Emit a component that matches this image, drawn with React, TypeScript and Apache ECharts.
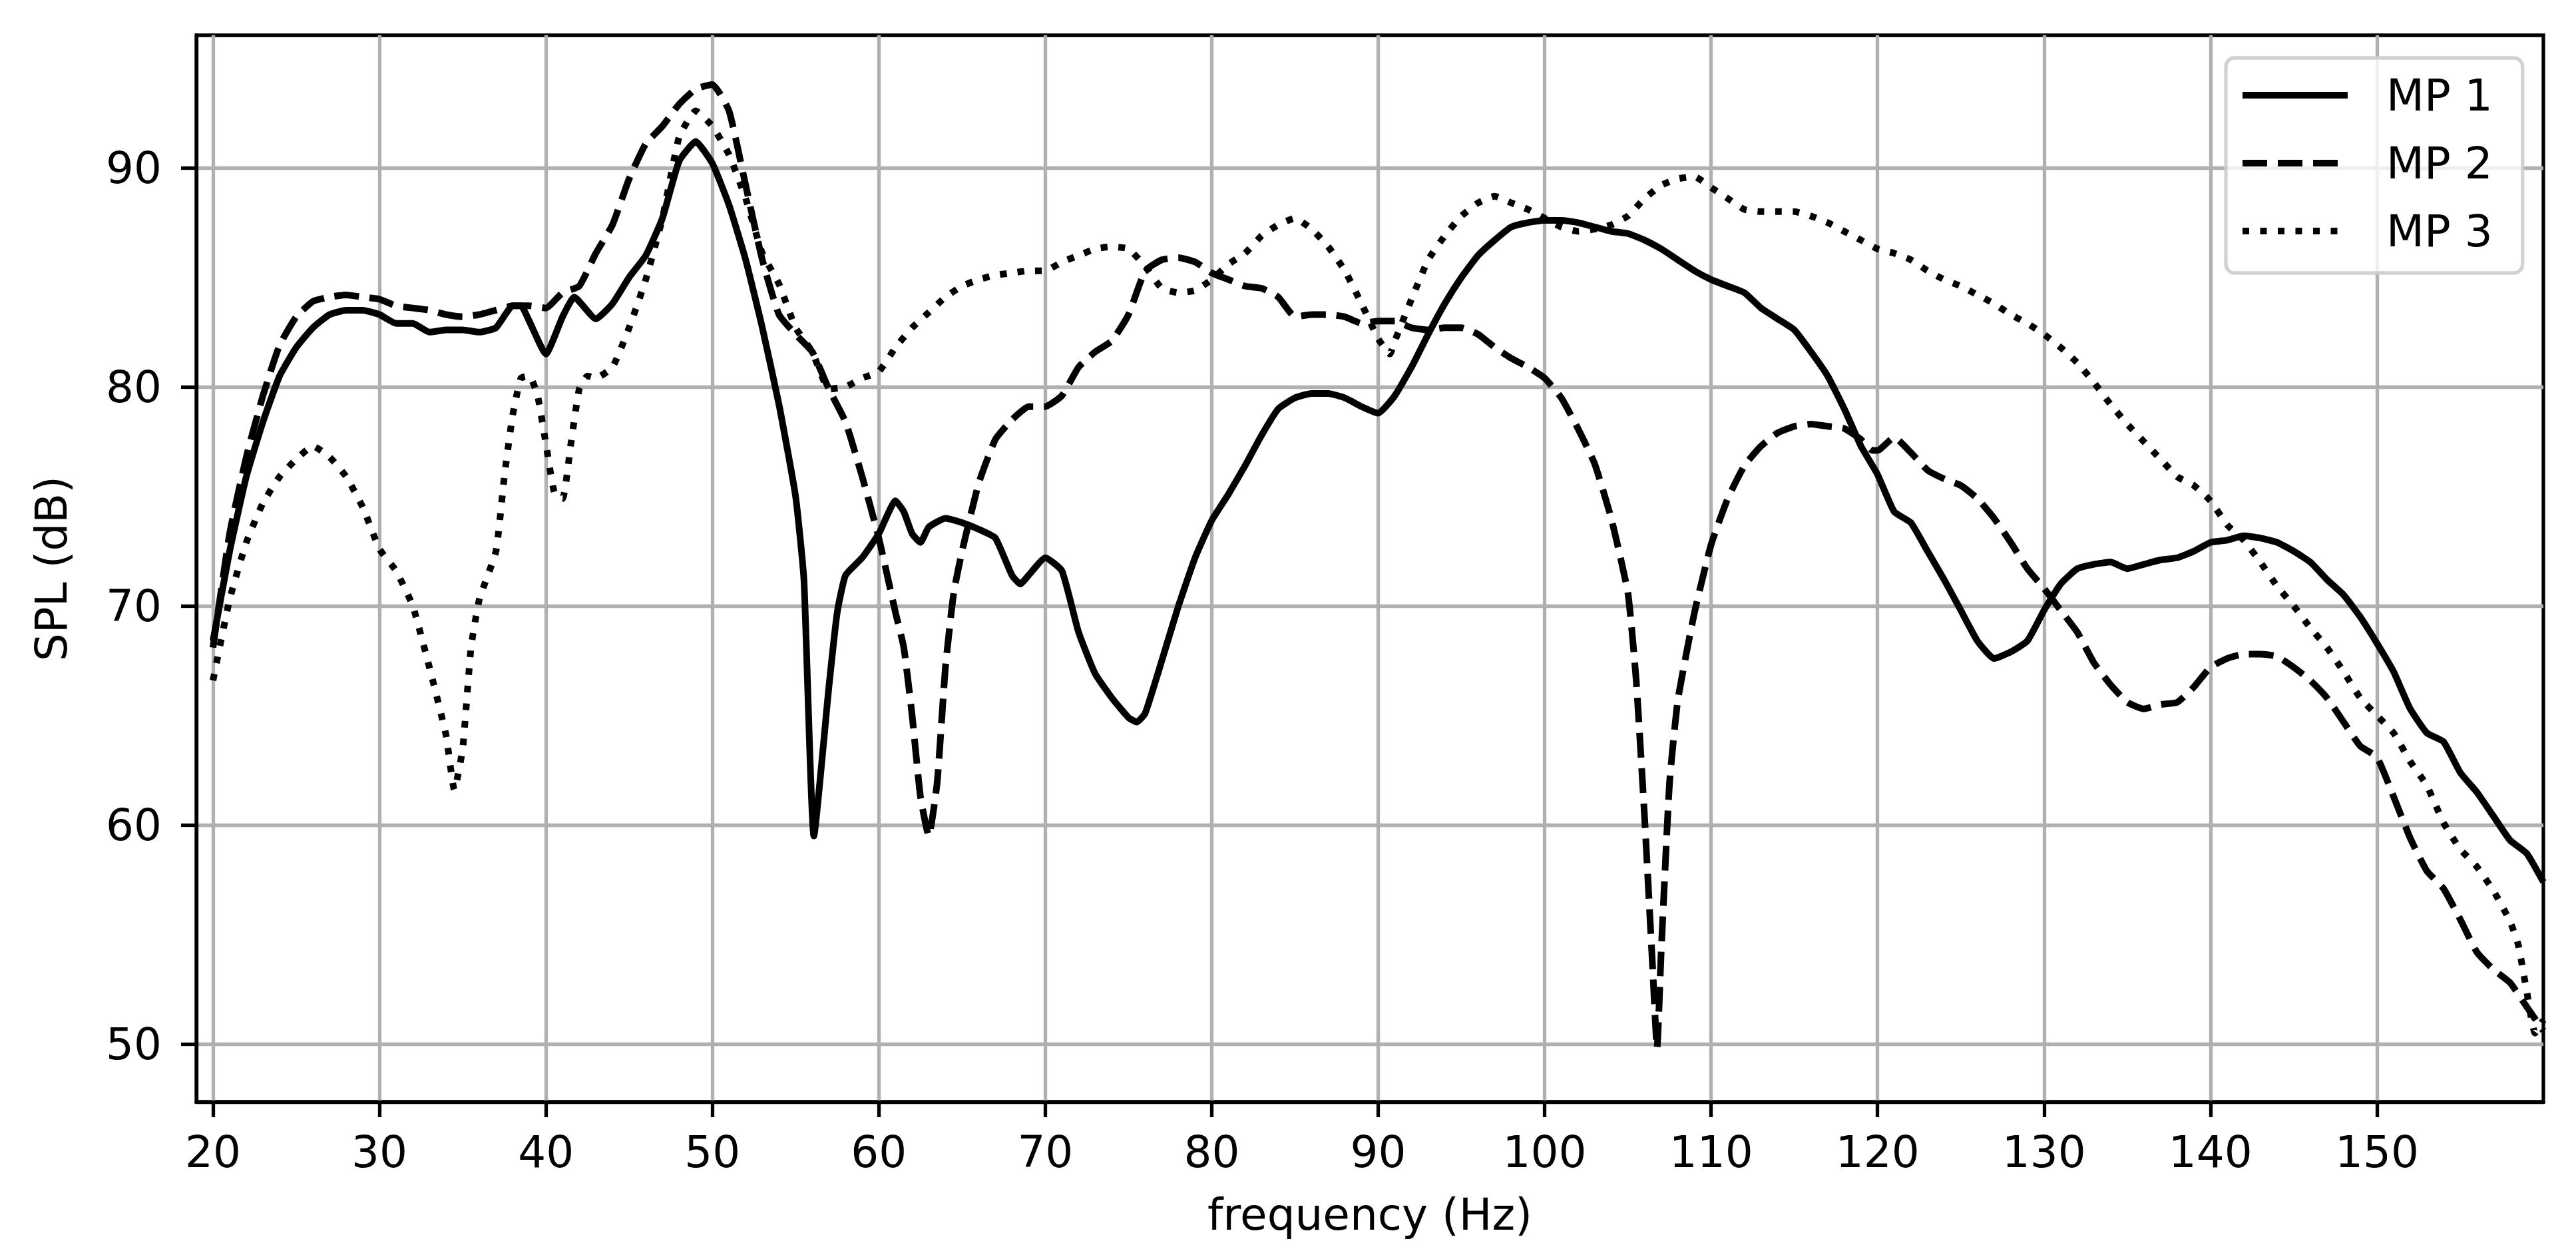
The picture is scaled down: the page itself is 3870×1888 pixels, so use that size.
import React, { useEffect, useRef } from "react";
import * as echarts from "echarts";

const X_TICKS = [20, 30, 40, 50, 60, 70, 80, 90, 100, 110, 120, 130, 140, 150];
const Y_TICKS = [50, 60, 70, 80, 90];
const SERIES_NAMES = ["MP 1", "MP 2", "MP 3"];

const MP1_FREQ = [
  20, 21, 22, 23, 24, 25, 26, 27, 28, 29, 30, 31, 32, 33, 34, 35, 36, 37, 38, 38.5, 39, 40, 41, 41.7, 43, 44, 45, 46, 47, 48, 49,
  50, 51, 52, 53, 54, 55, 55.5, 56.1, 57, 57.5, 58, 59, 60, 61, 61.5, 62, 62.5, 63, 64, 65, 66, 67, 68, 68.5, 69, 70, 71, 72,
  73, 74, 75, 75.5, 76, 77, 78, 79, 80, 81, 82, 83, 84, 85, 86, 87, 88, 89, 90, 91, 92, 93, 94, 95, 96, 97, 98, 99, 100, 101,
  102, 103, 104, 105, 106, 107, 108, 109, 110, 111, 112, 113, 114, 115, 116, 117, 118, 119, 120, 121, 122, 123, 124, 125, 126,
  127, 128, 129, 130, 131, 132, 133, 134, 135, 136, 137, 138, 139, 140, 141, 142, 143, 144, 145, 146, 147, 148, 149, 150, 151,
  152, 153, 154, 155, 156, 157, 158, 159, 160,
];
const MP1_SPL = [
  68.4, 72.5, 75.9, 78.4, 80.5, 81.8, 82.7, 83.3, 83.5, 83.5, 83.3, 82.9, 82.9, 82.5, 82.6, 82.6, 82.5, 82.7, 83.7, 83.7, 83.0,
  81.5, 83.2, 84.1, 83.1, 83.8, 85.0, 86.0, 87.7, 90.3, 91.2, 90.2, 88.3, 85.8, 82.7, 79.2, 75.0, 71.2, 59.5, 66.3, 69.7, 71.4,
  72.2, 73.3, 74.8, 74.3, 73.3, 72.9, 73.6, 74.0, 73.8, 73.5, 73.1, 71.4, 71.0, 71.4, 72.2, 71.6, 68.8, 66.9, 65.8, 64.9, 64.7,
  65.1, 67.5, 70.0, 72.2, 73.9, 75.1, 76.4, 77.8, 79.0, 79.5, 79.7, 79.7, 79.5, 79.1, 78.8, 79.6, 80.9, 82.4, 83.8, 85.0, 86.0,
  86.7, 87.3, 87.5, 87.6, 87.6, 87.5, 87.3, 87.1, 87.0, 86.7, 86.3, 85.8, 85.3, 84.9, 84.6, 84.3, 83.6, 83.1, 82.6, 81.6, 80.5,
  79.0, 77.3, 76.0, 74.3, 73.8, 72.5, 71.2, 69.8, 68.4, 67.6, 67.9, 68.4, 69.8, 71.0, 71.7, 71.9, 72.0, 71.7, 71.9, 72.1, 72.2,
  72.5, 72.9, 73.0, 73.2, 73.1, 72.9, 72.5, 72.0, 71.2, 70.5, 69.5, 68.3, 67.0, 65.3, 64.2, 63.8, 62.4, 61.5, 60.4, 59.3, 58.7,
  57.4,
];

const MP2_FREQ = [
  20, 21, 22, 23, 24, 25, 26, 27, 28, 29, 30, 31, 32, 33, 34, 35, 36, 37, 38, 39, 40, 41, 42, 43, 44, 45, 46, 47, 48, 49, 50,
  51, 52, 53, 54, 55, 56, 57, 58, 59, 60, 61, 61.5, 62, 62.5, 63, 63.5, 64, 64.5, 65, 66, 67, 68, 69, 70, 71, 72, 73, 74, 75,
  76, 77, 78, 79, 80, 81, 82, 83, 84, 85, 86, 87, 88, 89, 90, 91, 92, 93, 94, 95, 96, 97, 98, 99, 100, 101, 102, 103, 104, 105,
  105.5, 106, 106.5, 106.75, 107, 107.5, 108, 109, 110, 111, 112, 113, 114, 115, 116, 117, 118, 119, 119.7, 120, 121, 122, 123,
  124, 125, 126, 127, 128, 129, 130, 131, 132, 133, 134, 135, 136, 137, 138, 139, 140, 141, 142, 143, 144, 145, 146, 147, 148,
  149, 150, 151, 152, 153, 154, 155, 156, 157, 158, 159, 160,
];
const MP2_SPL = [
  68.1, 73.3, 76.8, 79.6, 81.9, 83.2, 83.9, 84.1, 84.2, 84.1, 84.0, 83.7, 83.6, 83.5, 83.3, 83.2, 83.3, 83.5, 83.7, 83.7, 83.6,
  84.3, 84.6, 86.1, 87.4, 89.5, 91.1, 91.9, 92.9, 93.6, 93.8, 92.6, 89.2, 85.8, 83.3, 82.4, 81.6, 79.9, 78.4, 75.9, 73.1, 69.7,
  68.1, 65.0, 61.3, 59.5, 61.9, 67.2, 70.6, 72.5, 75.6, 77.6, 78.5, 79.1, 79.1, 79.6, 80.9, 81.6, 82.1, 83.3, 85.3, 85.8, 85.9,
  85.7, 85.2, 84.9, 84.6, 84.5, 84.1, 83.2, 83.3, 83.3, 83.2, 82.9, 83.0, 83.0, 82.7, 82.6, 82.7, 82.7, 82.4, 81.8, 81.3, 80.9,
  80.4, 79.5, 78.1, 76.5, 74.0, 70.6, 66.6, 60.4, 53.3, 49.8, 54.2, 61.9, 65.7, 69.7, 72.8, 74.9, 76.4, 77.3, 77.9, 78.2, 78.3,
  78.2, 78.1, 77.6, 77.1, 77.1, 77.7, 77.0, 76.2, 75.8, 75.5, 74.9, 74.0, 72.9, 71.7, 70.8, 69.8, 68.8, 67.4, 66.4, 65.6, 65.3,
  65.5, 65.6, 66.3, 67.2, 67.6, 67.8, 67.8, 67.7, 67.2, 66.6, 65.8, 64.7, 63.6, 63.1, 61.3, 59.4, 57.9, 57.1, 55.7, 54.2, 53.4,
  52.8, 51.7, 50.6,
];

const MP3_FREQ = [
  20, 21, 22, 23, 24, 25, 26, 27, 28, 29, 30, 31, 32, 33, 34, 34.5, 35, 35.5, 36, 37, 37.5, 38, 38.5, 39, 39.5, 40, 40.5, 41,
  41.5, 42, 42.5, 43, 44, 45, 46, 47, 48, 49, 50, 51, 52, 53, 54, 55, 56, 57, 58, 59, 60, 61, 62, 63, 64, 65, 66, 67, 68, 69,
  70, 71, 72, 73, 74, 75, 76, 77, 78, 79, 80, 81, 82, 83, 84, 85, 86, 87, 88, 89, 90, 90.7, 91, 92, 93, 94, 95, 96, 97, 98, 99,
  100, 101, 102, 103, 104, 105, 106, 107, 108, 109, 110, 111, 112, 113, 114, 115, 116, 117, 118, 119, 120, 121, 122, 123, 124,
  125, 126, 127, 128, 129, 130, 131, 132, 133, 134, 135, 136, 137, 138, 139, 140, 141, 142, 143, 144, 145, 146, 147, 148, 149,
  150, 151, 152, 153, 154, 155, 156, 157, 158, 158.5, 159, 159.5, 160,
];
const MP3_SPL = [
  66.6, 70.3, 72.9, 74.7, 75.9, 76.7, 77.3, 76.8, 75.9, 74.5, 72.6, 71.6, 70.0, 67.2, 64.1, 61.6, 63.5, 68.1, 70.3, 72.5, 75.9,
  78.7, 80.4, 80.5, 79.6, 77.4, 75.2, 74.9, 77.4, 79.9, 80.5, 80.4, 80.9, 82.7, 84.9, 87.7, 91.4, 92.6, 91.9, 90.6, 88.6, 86.1,
  84.7, 82.7, 81.6, 79.9, 80.0, 80.4, 80.7, 81.8, 82.7, 83.4, 84.1, 84.6, 84.9, 85.1, 85.2, 85.3, 85.3, 85.7, 86.0, 86.3, 86.4,
  86.3, 85.5, 84.5, 84.3, 84.4, 84.9, 85.6, 86.1, 86.9, 87.4, 87.7, 87.2, 86.4, 85.3, 83.8, 82.2, 81.5, 82.1, 84.0, 85.8, 86.9,
  87.8, 88.4, 88.7, 88.4, 88.1, 87.7, 87.3, 87.1, 87.2, 87.4, 87.8, 88.6, 89.2, 89.5, 89.6, 89.1, 88.6, 88.1, 88.0, 88.0, 88.0,
  87.8, 87.5, 87.1, 86.7, 86.3, 86.1, 85.8, 85.3, 84.9, 84.6, 84.2, 83.8, 83.3, 82.9, 82.4, 81.8, 81.1, 80.2, 79.2, 78.3, 77.5,
  76.7, 75.9, 75.5, 74.8, 73.7, 73.0, 72.0, 70.9, 70.0, 69.0, 68.1, 67.0, 65.8, 65.0, 64.2, 62.9, 61.8, 60.1, 58.9, 58.1, 57.0,
  55.6, 54.5, 52.4, 50.5, 51.1,
];

const pairs = (fs: number[], vs: number[]) => fs.map((f, i) => [f, vs[i]]);

const FONT = "DejaVu Sans";
const LW = 5.3;
const DASHES: any[] = ["solid", [37, 16], [10, 16.5]];

export default function App() {
  const ref = useRef<HTMLDivElement>(null);

  useEffect(() => {
    if (!ref.current) return;
    const chart = echarts.init(ref.current, null, { renderer: "svg" });
    const lineBase = { color: "#000", width: 10, cap: "butt", join: "round" };
    chart.setOption({
      animation: false,
      backgroundColor: "#ffffff",
      textStyle: { fontFamily: FONT, color: "#000" },
      grid: {
        left: 295,
        top: 53,
        width: 3526,
        height: 1602,
        show: true,
        borderColor: "#000",
        borderWidth: LW,
        backgroundColor: "transparent",
        containLabel: false,
      },
      legend: {
        data: SERIES_NAMES.map((n, i) => ({
          name: n,
          lineStyle: { color: "#000", width: 10, type: DASHES[i], cap: "butt" },
        })),
        orient: "vertical",
        left: 3344,
        top: 87,
        itemWidth: 158,
        itemHeight: 20,
        itemGap: 36,
        selectedMode: false,
        padding: [23, 45, 30, 20],
        backgroundColor: "rgba(255,255,255,0.8)",
        borderColor: "rgba(204,204,204,0.9)",
        borderWidth: LW,
        borderRadius: 13,
        itemStyle: { opacity: 0 },
        lineStyle: { width: 10, color: "#000" },
        textStyle: {
          fontFamily: FONT,
          fontSize: 66,
          color: "#000",
          lineHeight: 66,
          padding: [0, 0, 0, 53],
        },
      },
      xAxis: {
        type: "value",
        min: 19,
        max: 160,
        name: "frequency (Hz)",
        nameLocation: "middle",
        nameGap: 136,
        nameTextStyle: { fontFamily: FONT, fontSize: 66, color: "#000" },
        axisLine: { show: true, lineStyle: { color: "#000", width: LW } },
        axisTick: { show: true, length: 23, lineStyle: { color: "#000", width: LW }, customValues: X_TICKS },
        axisLabel: { show: true, margin: 42, fontFamily: FONT, fontSize: 66, color: "#000", customValues: X_TICKS },
        splitLine: { show: true, lineStyle: { color: "#b0b0b0", width: LW } },
      },
      yAxis: {
        type: "value",
        min: 47.36,
        max: 96.05,
        name: "SPL (dB)",
        nameLocation: "middle",
        nameGap: 185,
        nameTextStyle: { fontFamily: FONT, fontSize: 66, color: "#000" },
        axisLine: { show: true, lineStyle: { color: "#000", width: LW } },
        axisTick: { show: true, length: 23, lineStyle: { color: "#000", width: LW }, customValues: Y_TICKS },
        axisLabel: { show: true, margin: 52, fontFamily: FONT, fontSize: 66, color: "#000", customValues: Y_TICKS },
        splitLine: { show: true, lineStyle: { color: "#b0b0b0", width: LW } },
      },
      series: [
        {
          name: SERIES_NAMES[0],
          type: "line",
          data: pairs(MP1_FREQ, MP1_SPL),
          symbol: "none",
          showSymbol: false,
          smooth: 0.15,
          clip: true,
          lineStyle: { ...lineBase, type: DASHES[0] },
        },
        {
          name: SERIES_NAMES[1],
          type: "line",
          data: pairs(MP2_FREQ, MP2_SPL),
          symbol: "none",
          showSymbol: false,
          smooth: 0.15,
          clip: true,
          lineStyle: { ...lineBase, type: DASHES[1] },
        },
        {
          name: SERIES_NAMES[2],
          type: "line",
          data: pairs(MP3_FREQ, MP3_SPL),
          symbol: "none",
          showSymbol: false,
          smooth: 0.15,
          clip: true,
          lineStyle: { ...lineBase, type: DASHES[2] },
        },
      ],
    });
    return () => chart.dispose();
  }, []);

  return (
    <div
      ref={ref}
      style={{ position: "fixed", left: 0, top: 0, width: 3870, height: 1888, background: "#fff" }}
    />
  );
}
